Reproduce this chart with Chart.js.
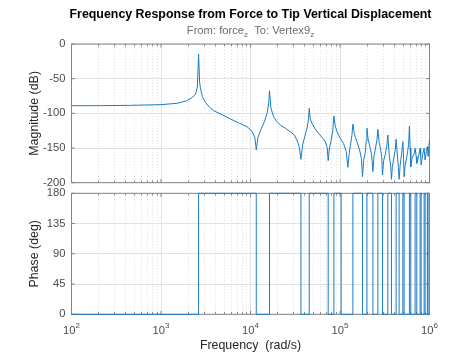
<!DOCTYPE html>
<html><head><meta charset="utf-8">
<script src="https://cdn.jsdelivr.net/npm/chart.js@4.4.1/dist/chart.umd.min.js"></script>
<style>
html,body{margin:0;padding:0;background:#fff;}
#wrap{position:relative;width:474px;height:355px;}
canvas{position:absolute;left:0;top:0;}
</style></head><body>
<div id="wrap"><canvas id="mag" width="474" height="355"></canvas><canvas id="ph" width="474" height="355"></canvas></div>
<script>
// ---------------- data ----------------
const titleText = 'Frequency Response from Force to Tip Vertical Displacement';
const subtitleParts = [['From: force', false], ['z', true], ['  To: Vertex9', false], ['z', true]];
const xLabel = 'Frequency  (rad/s)';
const magLabel = 'Magnitude (dB)';
const phaseLabel = 'Phase (deg)';
const xTickValues = [1e2, 1e3, 1e4, 1e5, 1e6];
const xTickBase = ['10', '10', '10', '10', '10'];
const xTickExp = ['2', '3', '4', '5', '6'];
const magTicks = [0, -50, -100, -150, -200];
const phaseTicks = [0, 45, 90, 135, 180];

const magFreq = [
  100, 211, 455, 1000, 1510, 1920, 2180, 2420, 2550, 2630,
  2700, 2750, 2900, 3130, 3470, 3880, 4840, 5950, 7310, 9140,
  10400, 11200, 11600, 12100, 12900, 14300, 15300, 16000, 16300, 16900,
  18100, 19700, 21500, 24500, 27800, 30800, 33000, 35000, 36600, 38300,
  40900, 43000, 44500, 45300, 46500, 48600, 52900, 57500, 63300, 68400,
  72000, 73800, 76200, 79100, 82900, 85500, 88400, 92300, 100500, 109400,
  117300, 122500, 126700, 130000, 135800, 139300, 144000, 147800, 155600, 165100,
  173400, 178300, 183900, 191100, 196100, 199700, 206500, 213500, 225900, 233000,
  239700, 247200, 258800, 264900, 273900, 281000, 292100, 298100, 307500, 319600,
  334700, 342500, 349600, 356900, 368000, 375700, 384400, 395500, 415300, 423900,
  438300, 449800, 457900, 469900, 488300, 503600, 514100, 520800, 534400, 562300,
  584400, 596600, 607400, 618400, 639400, 673100, 690700, 708600, 721600, 755700,
  785400, 795600, 805900, 837500, 870400, 893000, 923400, 947500, 964700, 1000000
];
const magDb = [
  -89, -88.9, -88.5, -87.5, -85.5, -82, -78, -73, -62, -14.4,
  -55, -62.4, -76, -84, -91, -96.2, -102, -108, -113.5, -119.2,
  -125.9, -135, -152.8, -135, -125, -112, -100, -85, -67.3, -92,
  -104.8, -112, -116.8, -121.5, -126.4, -131, -138.4, -148, -166.3, -145,
  -131.2, -120, -108, -92.8, -108, -114.4, -122.5, -128.8, -135, -140.9,
  -150, -168.2, -150, -140.9, -125, -103.8, -118, -126, -136, -143.2,
  -155, -177.8, -158, -148, -132, -115.4, -128, -133.7, -142, -152,
  -165, -191.4, -168, -157.6, -140, -121.6, -138, -145.6, -160, -184.1,
  -162, -152.9, -138, -123, -142, -148, -162, -188.9, -168, -160,
  -145, -131.2, -150, -162.5, -175, -195.1, -178, -167.3, -152, -137.4,
  -162, -178, -195.1, -175, -158, -140.9, -165, -191.4, -175, -160,
  -145, -118.2, -150, -176.9, -165, -158, -150.4, -162, -172, -162,
  -150.4, -160, -174.5, -160, -150.4, -167.3, -155, -148, -162, -137.4
];

const phaseFreq = [
  100, 2630, 11600, 16300, 36600, 45300, 73800, 85500, 103000, 139300,
  178300, 199700, 233000, 264900, 298100, 342500, 375700, 423900, 457900, 503600,
  520800, 596600, 618400, 690700, 721600, 785400, 805900, 870400, 893000, 947500,
  964700, 1000000
];
const phaseDeg = [
  0, 180, 0, 180, 0, 180, 0, 180, 0, 180,
  0, 180, 0, 180, 0, 180, 0, 180, 0, 180,
  0, 180, 0, 180, 0, 180, 0, 180, 0, 180,
  0, 0
];

// ---------------- layout ----------------
const W = 474, H = 355;
const PL = 71.5, PR = 429.5;
const MAG_TOP = 44, MAG_BOT = 182.7;
const PH_TOP = 193.3, PH_BOT = 314.3;
const FONT = '"Liberation Sans", Arial, Helvetica, sans-serif';
const LINE = '#1a7cc4';
const AXCOL = '#858585';
const TICKCOL = '#4d4d4d';
const LABCOL = '#262626';

const xMinor = [];
for (let e = 2; e < 6; e++) for (let m = 2; m <= 9; m++) xMinor.push(m * Math.pow(10, e));

function framePlugin(yTickVals, extra) {
  return {
    id: 'frame',
    beforeDatasetsDraw(chart) {
      const {ctx, chartArea: a, scales: {x, y}} = chart;
      ctx.save();
      ctx.strokeStyle = '#e0e0e0';
      ctx.lineWidth = 1;
      ctx.setLineDash([1, 2]);
      for (const v of xMinor) {
        const px = Math.round(x.getPixelForValue(v)) + 0.5;
        ctx.beginPath(); ctx.moveTo(px, a.top); ctx.lineTo(px, a.bottom); ctx.stroke();
      }
      ctx.setLineDash([]);
      ctx.strokeStyle = AXCOL;
      ctx.strokeRect(a.left, a.top, a.right - a.left, a.bottom - a.top);
      ctx.beginPath();
      for (const v of xTickValues) {
        const px = x.getPixelForValue(v);
        ctx.moveTo(px, a.bottom); ctx.lineTo(px, a.bottom - 3.5);
        ctx.moveTo(px, a.top); ctx.lineTo(px, a.top + 3.5);
      }
      for (const v of xMinor) {
        const px = Math.round(x.getPixelForValue(v)) + 0.5;
        ctx.moveTo(px, a.bottom); ctx.lineTo(px, a.bottom - 2.2);
        ctx.moveTo(px, a.top); ctx.lineTo(px, a.top + 2.2);
      }
      for (const v of yTickVals) {
        const py = y.getPixelForValue(v);
        ctx.moveTo(a.left, py); ctx.lineTo(a.left + 3.5, py);
        ctx.moveTo(a.right, py); ctx.lineTo(a.right - 3.5, py);
      }
      ctx.stroke();
      ctx.restore();
    },
    afterDraw(chart) {
      if (extra) extra(chart);
    }
  };
}

function drawTitles(chart) {
  const ctx = chart.ctx;
  const cx = (chart.chartArea.left + chart.chartArea.right) / 2;
  ctx.save();
  ctx.fillStyle = '#000';
  ctx.font = 'bold 12.4px ' + FONT;
  ctx.textAlign = 'center';
  ctx.textBaseline = 'alphabetic';
  ctx.fillText(titleText, cx, 18.3);
  const big = '11.2px ' + FONT, small = '8px ' + FONT;
  let total = 0;
  for (const [t, sub] of subtitleParts) { ctx.font = sub ? small : big; total += ctx.measureText(t).width; }
  let xx = cx - total / 2;
  ctx.textAlign = 'left';
  ctx.fillStyle = '#6b6b6b';
  for (const [t, sub] of subtitleParts) {
    ctx.font = sub ? small : big;
    ctx.fillText(t, xx, sub ? 37.2 : 34.3);
    xx += ctx.measureText(t).width;
  }
  ctx.restore();
}

function drawXTickLabels(chart) {
  const {ctx, scales: {x}} = chart;
  ctx.save();
  ctx.fillStyle = TICKCOL;
  ctx.textBaseline = 'alphabetic';
  ctx.textAlign = 'left';
  xTickValues.forEach((v, i) => {
    const px = x.getPixelForValue(v);
    ctx.font = '11.2px ' + FONT;
    const wb = ctx.measureText(xTickBase[i]).width;
    ctx.font = '8px ' + FONT;
    const we = ctx.measureText(xTickExp[i]).width;
    const start = px - (wb + we) / 2;
    ctx.font = '11.2px ' + FONT;
    ctx.fillText(xTickBase[i], start, 333.5);
    ctx.font = '8px ' + FONT;
    ctx.fillText(xTickExp[i], start + wb, 328);
  });
  ctx.restore();
}

function makeChart(id, freq, vals, yTicks, ymin, ymax, top, bot, ylabel, isPhase) {
  return new Chart(document.getElementById(id), {
    type: 'line',
    data: {
      datasets: [{
        data: freq.map((f, i) => ({x: f, y: vals[i]})),
        borderColor: LINE,
        borderWidth: 1,
        pointRadius: 0,
        tension: 0,
        stepped: isPhase ? 'before' : false,
        fill: false,
        clip: 2
      }]
    },
    options: {
      responsive: false,
      animation: false,
      devicePixelRatio: 1,
      events: [],
      layout: {padding: {left: 0, right: W - PR, top: top, bottom: isPhase ? 0 : H - bot}},
      plugins: {legend: {display: false}, tooltip: {enabled: false}, title: {display: false}},
      scales: {
        x: {
          type: 'logarithmic', min: 100, max: 1e6,
          afterBuildTicks: s => { s.ticks = xTickValues.map(v => ({value: v})); },
          afterFit: s => { s.height = isPhase ? H - bot : 0; },
          ticks: {display: false},
          grid: {color: '#e2e2e2', lineWidth: 1, drawTicks: false},
          border: {display: false},
          title: isPhase ? {display: true, text: xLabel, color: LABCOL,
                  font: {family: FONT, size: 12.4}, padding: {top: 0, bottom: 2.3}} : {display: false}
        },
        y: {
          type: 'linear', min: ymin, max: ymax,
          afterBuildTicks: s => { s.ticks = yTicks.map(v => ({value: v})); },
          afterFit: s => { s.width = PL; },
          ticks: {color: TICKCOL, font: {family: FONT, size: 11.2}, padding: 6, callback: v => String(v)},
          grid: {color: '#e2e2e2', lineWidth: 1, drawTicks: false},
          border: {display: false},
          title: {display: true, text: ylabel, color: LABCOL, font: {family: FONT, size: 12.4},
                  padding: {top: 27.6, bottom: 0}}
        }
      }
    },
    plugins: [framePlugin(yTicks, isPhase ? drawXTickLabels : drawTitles)]
  });
}

makeChart('mag', magFreq, magDb, magTicks, -200, 0, MAG_TOP, MAG_BOT, magLabel, false);
makeChart('ph', phaseFreq, phaseDeg, phaseTicks, 0, 180, PH_TOP, PH_BOT, phaseLabel, true);
</script>
</body></html>
